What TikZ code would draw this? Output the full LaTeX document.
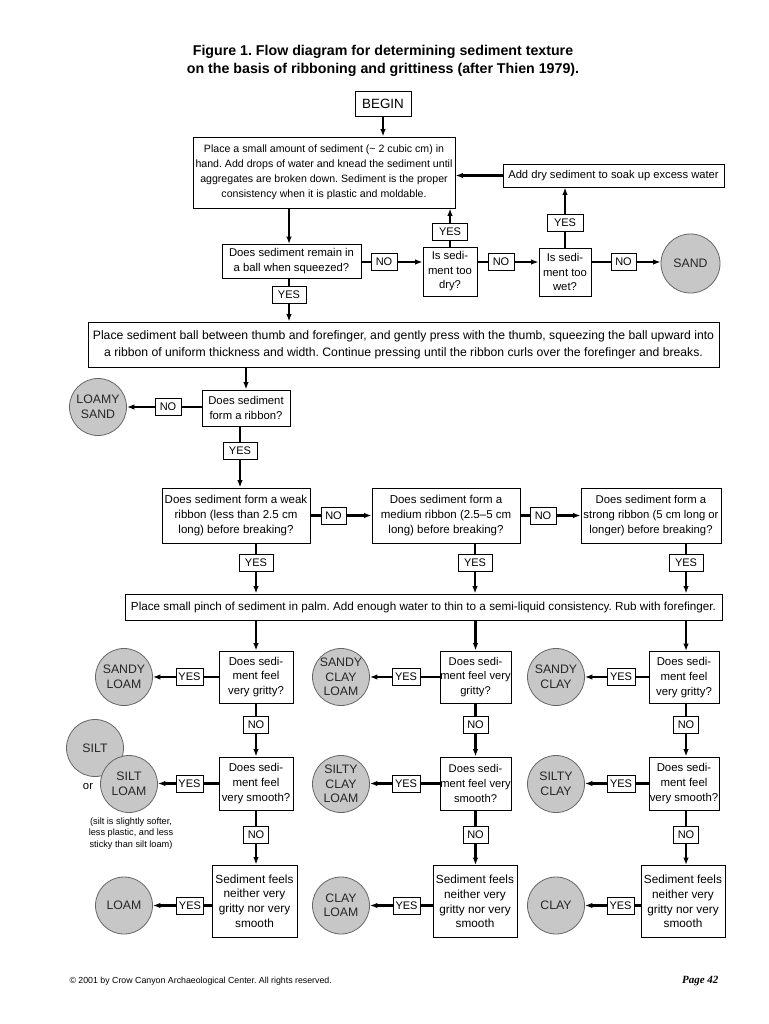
\documentclass[tikz,border=0pt]{standalone}
\usepackage{fontspec}
\setmainfont{Liberation Sans}
\newfontfamily\serifbi{Liberation Serif}
\usetikzlibrary{arrows.meta}
\frenchspacing
\newcommand{\fz}[2]{\fontsize{#1}{#2}\selectfont}
\begin{document}
\begin{tikzpicture}[x=1pt,y=-1pt,
  box/.style={draw, line width=0.9pt, inner sep=0pt, align=center, font=\fz{11.4}{14.6}},
  lab/.style={draw, line width=0.8pt, inner sep=0pt, minimum height=17, align=center, font=\fz{11}{12}},
  circ/.style={circle, draw=black!60, line width=0.8pt, fill=black!22, minimum size=57, inner sep=0pt, align=center, font=\fz{12.3}{14.5}, text=black!85},
  thk/.style={line width=2.3pt},
  arr/.style={line width=2.3pt, -{Latex[length=7.5pt,width=5.5pt]}}]
\useasboundingbox (0,0) rectangle (768,1024);
\fill[white] (0,0) rectangle (768,1024);

% title
\node[align=center, font=\fz{14.2}{18}\bfseries] (title) at (383,61)
  {Figure 1. Flow diagram for determining sediment texture\\on the basis of ribboning and grittiness (after Thien 1979).};

% top section
\node[box, minimum width=56, minimum height=25, font=\fz{13.4}{15}] (begin) at (383,103.5) {BEGIN};
\node[box, minimum width=262, minimum height=71, font=\fz{10.6}{15}] (b1) at (324,172.5)
  {Place a small amount of sediment (\textasciitilde\ 2 cubic cm) in\\hand. Add drops of water and knead the sediment until\\aggregates are broken down. Sediment is the proper\\consistency when it is plastic and moldable.};
\node[box, minimum width=221, minimum height=23, font=\fz{11.2}{13}] (adddry) at (613.5,175.5) {Add dry sediment to soak up excess water};
\node[box, minimum width=139, minimum height=34, font=\fz{11.3}{15}] (ball) at (291.5,261.5) {Does sediment remain in\\a ball when squeezed?};
\node[lab, minimum width=26] (no1) at (384,262) {NO};
\node[box, minimum width=54, minimum height=49, font=\fz{11.3}{14.5}] (dry) at (450,271.5) {Is sedi-\\ment too\\dry?};
\node[lab, minimum width=26] (no2) at (501,262) {NO};
\node[box, minimum width=52, minimum height=48, font=\fz{11.3}{14.5}] (wet) at (565,272) {Is sedi-\\ment too\\wet?};
\node[lab, minimum width=25] (no3) at (623.5,262) {NO};
\node[circ, minimum size=59] (sand) at (690.5,263.5) {SAND};
\node[lab, minimum width=35] (yesdry) at (450,232) {YES};
\node[lab, minimum width=36] (yeswet) at (565,222.5) {YES};
\node[lab, minimum width=34] (yesball) at (289,295) {YES};

% ribbon section
\node[box, minimum width=631, minimum height=45, font=\fz{12.2}{17}] (ribinst) at (403.5,344.5)
  {Place sediment ball between thumb and forefinger, and gently press with the thumb, squeezing the ball upward into\\a ribbon of uniform thickness and width. Continue pressing until the ribbon curls over the forefinger and breaks.};
\node[box, minimum width=88, minimum height=36, font=\fz{11.3}{15}] (ribbon) at (246,408) {Does sediment\\form a ribbon?};
\node[lab, minimum width=26] (norib) at (168,407) {NO};
\node[circ] (loamysand) at (98,407) {LOAMY\\SAND};
\node[lab, minimum width=34] (yesrib) at (240,450.5) {YES};

\node[box, minimum width=148, minimum height=55, font=\fz{11.5}{15}] (weak) at (236,515.5) {Does sediment form a weak\\ribbon (less than 2.5 cm\\long) before breaking?};
\node[lab, minimum width=25] (now) at (333.5,515.5) {NO};
\node[box, minimum width=148, minimum height=55, font=\fz{11.5}{15}] (medium) at (446,515.5) {Does sediment form a\\medium ribbon (2.5--5 cm\\long) before breaking?};
\node[lab, minimum width=26] (nom) at (543,515.5) {NO};
\node[box, minimum width=140, minimum height=55, font=\fz{11.3}{15}] (strong) at (651,515.5) {Does sediment form a\\strong ribbon (5 cm long or\\longer) before breaking?};
\node[lab, minimum width=34] (yesw) at (256,562.5) {YES};
\node[lab, minimum width=34] (yesm) at (475,562.5) {YES};
\node[lab, minimum width=34] (yess) at (686,562.5) {YES};

\node[box, minimum width=597, minimum height=26, font=\fz{11.7}{14}] (palm) at (423.5,607)
  {Place small pinch of sediment in palm. Add enough water to thin to a semi-liquid consistency. Rub with forefinger.};

% column 1
\node[box, minimum width=74, minimum height=52] (g1) at (256,677) {Does sedi-\\ment feel\\very gritty?};
\node[lab, minimum width=27] (yg1) at (189.5,677) {YES};
\node[circ] (sandyloam) at (124,677) {SANDY\\LOAM};
\node[lab, minimum width=25] (ng1) at (256,725) {NO};
\node[box, minimum width=74, minimum height=53] (s1) at (256,783.5) {Does sedi-\\ment feel\\very smooth?};
\node[lab, minimum width=27] (ys1) at (189.5,783.5) {YES};
\node[circ] (silt) at (95,748) {SILT};
\node[circ] (siltloam) at (129,784) {SILT\\LOAM};
\node[font=\fz{11.3}{13}] (or) at (88,787) {or};
\node[align=center, font=\fz{9.2}{11.3}] (note) at (131,833.5) {(silt is slightly softer,\\less plastic, and less\\sticky than silt loam)};
\node[lab, minimum width=25] (ns1) at (256,834.5) {NO};
\node[box, minimum width=85, minimum height=72, font=\fz{11.8}{14.6}] (n1) at (254.5,901) {Sediment feels\\neither very\\gritty nor very\\smooth};
\node[lab, minimum width=27] (yn1) at (190,905.5) {YES};
\node[circ] (loam) at (124,905.5) {LOAM};

% column 2
\node[box, minimum width=71, minimum height=52, font=\fz{11.2}{14.6}] (g2) at (475.5,677) {Does sedi-\\ment feel very\\gritty?};
\node[lab, minimum width=28] (yg2) at (406,677) {YES};
\node[circ] (sandyclayloam) at (341,677) {SANDY\\CLAY\\LOAM};
\node[lab, minimum width=25] (ng2) at (475.5,725) {NO};
\node[box, minimum width=71, minimum height=53, font=\fz{11.2}{14.6}] (s2) at (475.5,783.5) {Does sedi-\\ment feel very\\smooth?};
\node[lab, minimum width=28] (ys2) at (406,783.5) {YES};
\node[circ] (siltyclayloam) at (341,784) {SILTY\\CLAY\\LOAM};
\node[lab, minimum width=25] (ns2) at (475.5,834.5) {NO};
\node[box, minimum width=84, minimum height=72, font=\fz{11.8}{14.6}] (n2) at (475,901.5) {Sediment feels\\neither very\\gritty nor very\\smooth};
\node[lab, minimum width=27] (yn2) at (406.5,905.5) {YES};
\node[circ] (clayloam) at (341,905.5) {CLAY\\LOAM};

% column 3
\node[box, minimum width=70, minimum height=52] (g3) at (684,677.5) {Does sedi-\\ment feel\\very gritty?};
\node[lab, minimum width=28] (yg3) at (621,677) {YES};
\node[circ] (sandyclay) at (556,677) {SANDY\\CLAY};
\node[lab, minimum width=25] (ng3) at (686,725) {NO};
\node[box, minimum width=70, minimum height=53] (s3) at (684,783.5) {Does sedi-\\ment feel\\very smooth?};
\node[lab, minimum width=28] (ys3) at (621,783.5) {YES};
\node[circ] (siltyclay) at (556,784) {SILTY\\CLAY};
\node[lab, minimum width=25] (ns3) at (686,834.5) {NO};
\node[box, minimum width=84, minimum height=72, font=\fz{11.8}{14.6}] (n3) at (683,901.5) {Sediment feels\\neither very\\gritty nor very\\smooth};
\node[lab, minimum width=27] (yn3) at (620.5,905.5) {YES};
\node[circ] (clay) at (556,905.5) {CLAY};

% footer
\node[anchor=west, font=\fz{8.8}{10}] (copy) at (66,981) {\textcopyright\ 2001 by Crow Canyon Archaeological Center. All rights reserved.};
\node[anchor=east, font=\serifbi\fz{11}{13}\bfseries\itshape] (page) at (722,981) {Page 42};

% connectors: top
\draw[arr] (begin.south) -- (begin.south |- b1.north);
\draw[arr] (yesball.north |- b1.south) -- (yesball.north |- ball.north);
\draw[thk] (ball.east |- no1.west) -- (no1.west);
\draw[arr] (no1.east) -- (dry.west |- no1.east);
\draw[thk] (dry.east |- no2.west) -- (no2.west);
\draw[arr] (no2.east) -- (wet.west |- no2.east);
\draw[thk] (wet.east |- no3.west) -- (no3.west);
\draw[arr] (no3.east) -- (sand.west |- no3.east);
\draw[thk] (yesdry.south |- dry.north) -- (yesdry.south);
\draw[arr] (yesdry.north) -- (yesdry.north |- b1.south);
\draw[thk] (yeswet.south |- wet.north) -- (yeswet.south);
\draw[arr] (yeswet.north) -- (yeswet.north |- adddry.south);
\draw[arr] (adddry.west) -- (b1.east |- adddry.west);
\draw[thk] (yesball.north |- ball.south) -- (yesball.north);
\draw[arr] (yesball.south) -- (yesball.south |- ribinst.north);

% ribbon
\draw[arr] (ribbon.north |- ribinst.south) -- (ribbon.north);
\draw[thk] (ribbon.west |- norib.east) -- (norib.east);
\draw[arr] (norib.west) -- (loamysand.east);
\draw[thk] (yesrib.north |- ribbon.south) -- (yesrib.north);
\draw[arr] (yesrib.south) -- (yesrib.south |- weak.north);
\draw[thk] (weak.east) -- (now.west);
\draw[arr] (now.east) -- (medium.west);
\draw[thk] (medium.east) -- (nom.west);
\draw[arr] (nom.east) -- (strong.west);
\draw[thk] (yesw.north |- weak.south) -- (yesw.north);
\draw[arr] (yesw.south) -- (yesw.south |- palm.north);
\draw[thk] (yesm.north |- medium.south) -- (yesm.north);
\draw[arr] (yesm.south) -- (yesm.south |- palm.north);
\draw[thk] (yess.north |- strong.south) -- (yess.north);
\draw[arr] (yess.south) -- (yess.south |- palm.north);

% columns
\foreach \g/\yg/\cg/\ng/\s/\ys/\cs/\ns/\n/\yn/\cn in
  {g1/yg1/sandyloam/ng1/s1/ys1/siltloam/ns1/n1/yn1/loam,
   g2/yg2/sandyclayloam/ng2/s2/ys2/siltyclayloam/ns2/n2/yn2/clayloam,
   g3/yg3/sandyclay/ng3/s3/ys3/siltyclay/ns3/n3/yn3/clay}{
  \draw[arr] (palm.south -| \ng) -- (\ng |- \g.north);
  \draw[thk] (\g.west |- \yg.east) -- (\yg.east);
  \draw[arr] (\yg.west) -- (\cg.east |- \yg.west);
  \draw[thk] (\ng |- \g.south) -- (\ng.north);
  \draw[arr] (\ng.south) -- (\ng |- \s.north);
  \draw[thk] (\s.west |- \ys.east) -- (\ys.east);
  \draw[arr] (\ys.west) -- (\cs.east |- \ys.west);
  \draw[thk] (\ns |- \s.south) -- (\ns.north);
  \draw[arr] (\ns.south) -- (\ns |- \n.north);
  \draw[thk] (\n.west |- \yn.east) -- (\yn.east);
  \draw[arr] (\yn.west) -- (\cn.east |- \yn.west);
}
\end{tikzpicture}
\end{document}
